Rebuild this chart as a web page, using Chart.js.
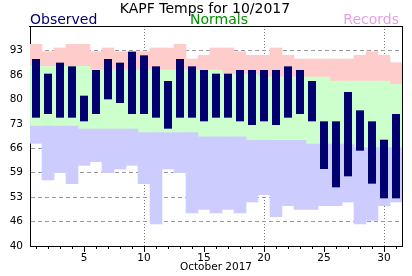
<!DOCTYPE html>
<html>
<head>
<meta charset="utf-8">
<script src="https://cdn.jsdelivr.net/npm/chart.js@4"></script>
<style>
  html, body { margin: 0; padding: 0; background: #fff; }
  #wrap { width: 412px; height: 276px; }
</style>
</head>
<body>
<div id="wrap"><canvas id="tempChart"></canvas></div>
<script>
/* ==================== DATA ==================== */
const days = ['1','2','3','4','5','6','7','8','9','10','11','12','13','14','15','16',
              '17','18','19','20','21','22','23','24','25','26','27','28','29','30','31'];
const xTickLabels = ['5','10','15','20','25','30'];
const xGridDays   = ['10','20','30'];
const yTickLabels = ['40','46','53','59','66','73','80','86','93',''];

const obsHigh = [91,87,90,89,81,88,91,90,93,92,89,85,91,89,88,87,87,88,88,88,88,89,88,85,74,74,82,77,74,69,76];
const obsLow  = [75,76,75,75,74,76,80,79,76,76,75,72,75,75,74,75,75,74,73,74,73,75,76,74,61,56,59,66,57,53,53];

const normHigh = [89,89,89,89,89,88,88,88,88,88,88,88,88,88,88,88,86.8,86.8,86.8,86.1,86.1,86.1,86.1,86.1,86.1,85,85,85,85,85,84.1];
const normLow  = [72.7,72.7,72.7,72.7,71.9,71.9,71.9,71.9,71.9,70.9,70.9,70.9,70.9,70.9,69.8,69.8,69.8,69.8,
                  68.85,68.85,68.85,68.85,68.85,67.8,67.8,67.8,67.8,66.8,66.8,66.8,66.8];

const recHigh = [95,93,94,95,95,93,94,93,93,93,94,94,95,91,92,94,94,93,92,92,94,92,91,91,91,91,91,92,93,92,90];
const recLow  = [68,58,60,57,62,63,60,61,62,57,46,61,60,49,50,49,50,49,52,54,48,51,50,50,51,51,52,46,47,51,52];

/* ==================== CHART ==================== */
const FONT = 'DejaVu Sans';

function pairs(lo, hi) {
  return lo.map((v, i) => [v, hi[i]]);
}

const headerText = {
  id: 'headerText',
  afterDraw(chart) {
    const ctx = chart.ctx;
    const a = chart.chartArea;
    ctx.save();
    // frame top + right
    ctx.strokeStyle = '#000';
    ctx.lineWidth = 1;
    ctx.beginPath();
    ctx.moveTo(a.left - 1, a.top + 0.5);
    ctx.lineTo(a.right + 1, a.top + 0.5);
    ctx.moveTo(a.right + 0.5, a.top);
    ctx.lineTo(a.right + 0.5, a.bottom);
    ctx.stroke();

    ctx.font = '14px "' + FONT + '"';
    ctx.textBaseline = 'alphabetic';
    ctx.textAlign = 'center';
    ctx.fillStyle = '#000';
    ctx.fillText('KAPF Temps for 10/2017', 205, 12.5);
    ctx.textAlign = 'left';
    ctx.fillStyle = '#000070';
    ctx.fillText('Observed', 30, 24);
    ctx.textAlign = 'center';
    ctx.fillStyle = '#009000';
    ctx.fillText('Normals', 219, 24);
    ctx.textAlign = 'right';
    ctx.fillStyle = '#e6a0e6';
    ctx.fillText('Records', 399, 24);
    ctx.restore();
  }
};

const band = { grouped: false, categoryPercentage: 1, barPercentage: 1, borderWidth: 0 };

new Chart(document.getElementById('tempChart'), {
  type: 'bar',
  data: {
    labels: days,
    datasets: [
      { ...band, label: 'Record high', data: pairs(normHigh, recHigh), backgroundColor: '#ffcccc', order: 3 },
      { ...band, label: 'Normals',     data: pairs(normLow, normHigh), backgroundColor: '#ccffcc', order: 2 },
      { ...band, label: 'Record low',  data: pairs(recLow, normLow),   backgroundColor: '#ccccff', order: 1 },
      { grouped: false, categoryPercentage: 1, barPercentage: 0.667, borderWidth: 0,
        label: 'Observed', data: pairs(obsLow, obsHigh), backgroundColor: '#000070', order: 0 }
    ]
  },
  options: {
    responsive: true, maintainAspectRatio: false,
    animation: false,
    devicePixelRatio: 1,
    layout: { padding: { top: 26, right: 10, left: 0, bottom: 0 } },
    plugins: { legend: { display: false }, tooltip: { enabled: false }, title: { display: false } },
    scales: {
      x: {
        type: 'category', position: 'bottom', offset: true, z: 1,
        grid: {
          offset: false, drawOnChartArea: true, drawTicks: true, tickLength: 3,
          color: c => xGridDays.includes(days[c.index]) ? '#777' : 'rgba(0,0,0,0)',
          tickColor: '#000'
        },
        border: { display: true, color: '#000', dash: [1, 2] },
        ticks: { display: false, autoSkip: false },
        afterFit: s => { s.height = 0; }
      },
      xMajor: {
        type: 'category', position: 'bottom', offset: true,
        grid: {
          offset: false, drawOnChartArea: false, tickLength: 6,
          tickColor: c => xTickLabels.includes(days[c.index]) ? '#000' : 'rgba(0,0,0,0)'
        },
        border: { display: false },
        ticks: {
          autoSkip: false, maxRotation: 0, padding: 0, color: '#000',
          font: { family: FONT, size: 10.5 },
          callback: (v, i) => xTickLabels.includes(days[i]) ? days[i] : ''
        },
        title: { display: true, text: 'October 2017', color: '#000',
                 font: { family: FONT, size: 10.5 }, padding: { top: 0, bottom: 2 } },
        afterFit: s => { s.height = 30; }
      },
      y: {
        min: 40, max: 100, z: 1,
        ticks: {
          count: 10, padding: 7, color: '#000',
          font: { family: FONT, size: 10.5 },
          callback: (v, i) => yTickLabels[i]
        },
        grid: {
          drawTicks: false,
          color: c => (c.index === 0 || c.index === yTickLabels.length - 1) ? 'rgba(0,0,0,0)' : '#999'
        },
        border: { display: true, color: '#000', dash: [4, 3] },
        afterFit: s => { s.width = 30; }
      }
    }
  },
  plugins: [headerText]
});
</script>
</body>
</html>
